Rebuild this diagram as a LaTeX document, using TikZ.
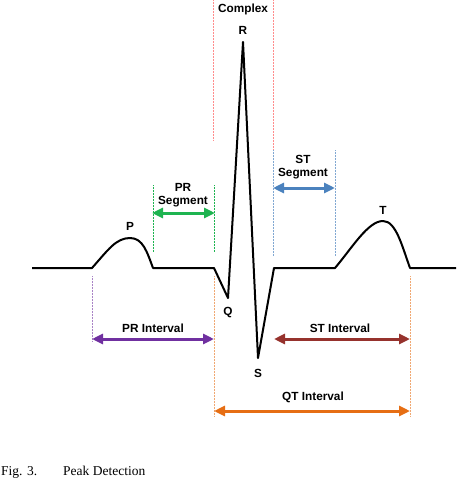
\documentclass[tikz,border=0pt]{standalone}
\usepackage{fontspec}
\setmainfont{Liberation Serif}
\setsansfont{Liberation Sans}
\usepackage{xcolor}
\usetikzlibrary{arrows.meta, positioning}

\definecolor{segGreen}{RGB}{30,180,80}
\definecolor{segBlue}{RGB}{75,130,190}
\definecolor{ivPurple}{RGB}{112,48,160}
\definecolor{ivBrown}{RGB}{150,50,45}
\definecolor{ivOrange}{RGB}{230,110,20}

\begin{document}
\begin{tikzpicture}[x=1pt, y=-1pt,
  wave/.style={line width=2pt, black, line join=round},
  lbl/.style={font=\sffamily\bfseries\fontsize{11.8}{13}\selectfont, inner sep=0pt, align=center},
  guide/.style={densely dotted, line width=0.5pt},
  span/.style={{Triangle[length=11pt,width=10pt]}-{Triangle[length=11pt,width=10pt]}, line width=3pt}
]
\useasboundingbox (0,0) rectangle (474,479);

% waveform
\coordinate (start) at (32,268);
\coordinate (pon) at (92,268);
\coordinate (ppk) at (130,238);
\coordinate (poff) at (153,268);
\coordinate (qon) at (214,268);
\coordinate (qpk) at (228,298);
\coordinate (rpk) at (243,42);
\coordinate (spk) at (258,358);
\coordinate (son) at (274,268);
\coordinate (ton) at (335,268);
\coordinate (tpk) at (383,221);
\coordinate (toff) at (410,268);
\coordinate (stop) at (456,268);

\draw[wave] (start) -- (pon) .. controls (108,250) and (116,238) .. (ppk)
  .. controls (143,238) and (147,252) .. (poff) -- (qon) -- (qpk) -- (rpk)
  -- (spk) -- (son) -- (ton) .. controls (352,248) and (368,221) .. (tpk)
  .. controls (396,221) and (402,246) .. (toff) -- (stop);

% wave labels
\node[lbl] (plbl) at (130,226) {P};
\node[lbl] (rlbl) at (243,30) {R};
\node[lbl] (qlbl) at (228,313) {Q};
\node[lbl] (slbl) at (258,373) {S};
\node[lbl] (tlbl) at (383,210) {T};
\node[lbl] (cplx) at (243,9) {Complex};

% guide lines
\draw[guide, red!45] (213,0) -- (213,140);
\draw[guide, red!45] (273,0) -- (273,150);
\draw[guide, segGreen] (153,185) -- (153,252);
\draw[guide, segGreen] (214,185) -- (214,252);
\draw[guide, segBlue!70] (273,150) -- (273,256);
\draw[guide, segBlue!70] (335,150) -- (335,256);
\draw[guide, ivPurple!60] (92,276) -- (92,342);
\draw[guide, ivOrange!60] (214,276) -- (214,416);
\draw[guide, ivOrange!60] (410,276) -- (410,416);

% segments and intervals
\coordinate (prsL) at (152,213);
\coordinate (prsR) at (215,213);
\draw[span, segGreen] (prsL) -- (prsR);
\node[lbl] (prslbl) at (183,195) {PR\\Segment};

\coordinate (stsL) at (273,188);
\coordinate (stsR) at (335,188);
\draw[span, segBlue] (stsL) -- (stsR);
\node[lbl] (stslbl) at (303,167) {ST\\Segment};

\coordinate (priL) at (92,339);
\coordinate (priR) at (214,339);
\draw[span, ivPurple] (priL) -- (priR);
\node[lbl] (prilbl) at (153,328) {PR Interval};

\coordinate (stiL) at (274,339);
\coordinate (stiR) at (410,339);
\draw[span, ivBrown] (stiL) -- (stiR);
\node[lbl] (stilbl) at (340,328) {ST Interval};

\coordinate (qtiL) at (214,411);
\coordinate (qtiR) at (410,411);
\draw[span, ivOrange] (qtiL) -- (qtiR);
\node[lbl] (qtilbl) at (313,397) {QT Interval};

% caption
\node[anchor=base west, font=\fontsize{13.5}{14}\selectfont, inner sep=0pt] (fig) at (1,475) {Fig. 3.};
\node[anchor=base west, font=\fontsize{13.5}{14}\selectfont, inner sep=0pt] (cap) at (63,475) {Peak Detection};

\end{tikzpicture}
\end{document}
